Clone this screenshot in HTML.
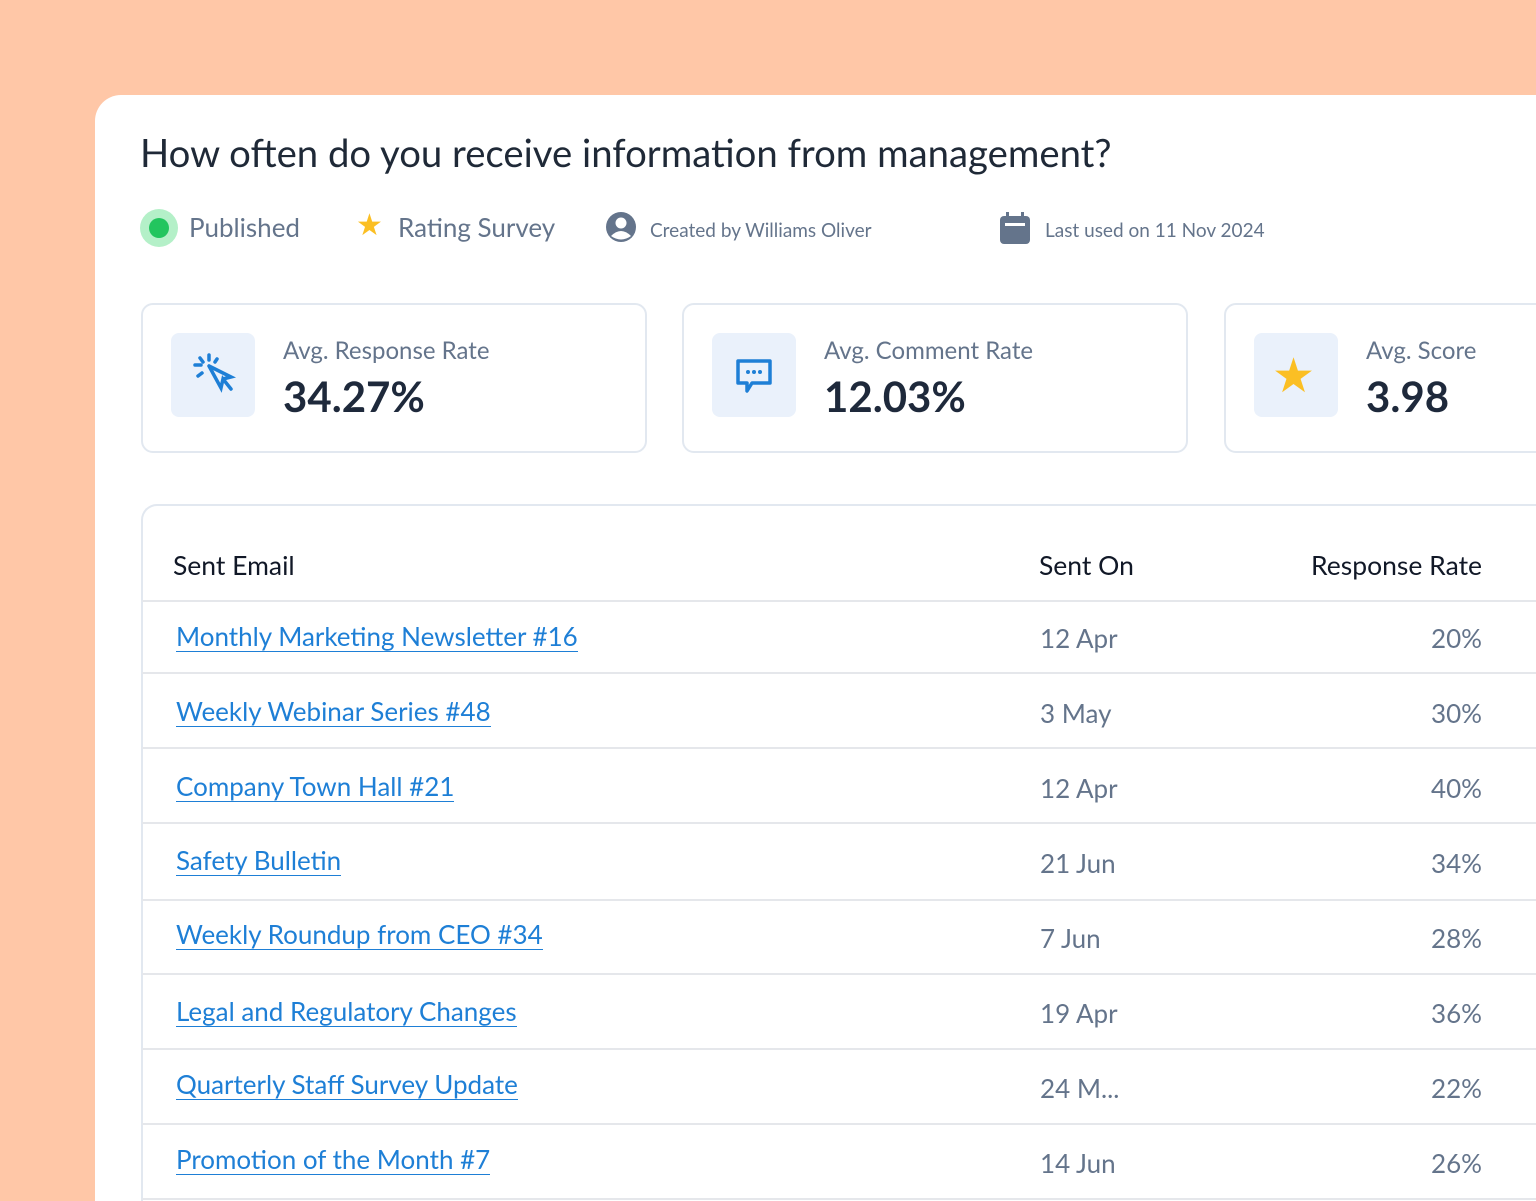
<!DOCTYPE html>
<html><head><meta charset="utf-8"><style>
*{margin:0;padding:0;box-sizing:border-box}
html,body{width:1536px;height:1201px;overflow:hidden}
body{background:#FFC7A7;font-family:"Lato","Liberation Sans",sans-serif;position:relative}
.panel{position:absolute;left:95px;top:95px;width:1441px;height:1106px;background:#fff;border-radius:26px 0 0 0}
.a{position:absolute;white-space:nowrap}
.title{left:140px;top:130px;font-size:38.3px;color:#1f2937}
.meta{color:#64748b}
.card{position:absolute;top:303px;height:150px;width:506px;border:2px solid #e2e8f0;border-radius:12px;background:#fff}
.ic{position:absolute;left:28px;top:28px;width:84px;height:84px;background:#eaf1fb;border-radius:8px}
.lab{position:absolute;left:140px;top:31px;font-size:24px;color:#64748b}
.val{position:absolute;left:140px;top:66px;font-size:42px;font-weight:bold;color:#1e293b}
.tbl{position:absolute;left:141px;top:504px;width:1395px;height:697px;border:2px solid #e2e8f0;border-radius:16px 0 0 0;border-right:none;border-bottom:none}
.hl{position:absolute;left:142px;width:1394px;height:2px;background:#e5e7eb}
.th{font-size:26.5px;color:#111827}
.lk{font-size:26px;color:#1e7fd6;border-bottom:1.5px solid #1e7fd6;line-height:29px}
.d{font-size:26px;color:#64748b}
.r{font-size:26px;color:#64748b;right:54px;text-align:right}
</style></head><body>
<div class="panel"></div>
<div class="a title">How often do you receive information from management?</div>
<div class="a" style="left:140px;top:209px;width:38px;height:38px;border-radius:50%;background:#b4f0c8"></div>
<div class="a" style="left:149px;top:218px;width:20px;height:20px;border-radius:50%;background:#22c55e"></div>
<div class="a meta" style="left:189px;top:211px;font-size:26px">Published</div>
<div class="a" style="left:356px;top:206px;font-size:30px;color:#fbbf24">★</div>
<div class="a meta" style="left:398px;top:211px;font-size:26px">Rating Survey</div>
<svg class="a" style="left:605px;top:211px" width="32" height="32" viewBox="0 0 32 32"><circle cx="16" cy="16" r="15" fill="#64748b"/><circle cx="16" cy="12" r="5.5" fill="#fff"/><path d="M6 25 Q16 15 26 25 Q16 32 6 25Z" fill="#fff"/></svg>
<div class="a meta" style="left:650px;top:219px;font-size:19px">Created by Williams Oliver</div>
<svg class="a" style="left:999px;top:211px" width="32" height="34" viewBox="0 0 32 34"><rect x="1" y="5" width="30" height="28" rx="4" fill="#64748b"/><rect x="7" y="1" width="3" height="8" fill="#64748b"/><rect x="22" y="1" width="3" height="8" fill="#64748b"/><rect x="6" y="12" width="20" height="3" fill="#fff"/></svg>
<div class="a meta" style="left:1045px;top:219px;font-size:19px">Last used on 11 Nov 2024</div>

<div class="card" style="left:141px"><div class="ic"><svg width="84" height="84" viewBox="0 0 84 84"><g stroke="#1e7fd6" stroke-width="3.5" stroke-linecap="round" fill="none"><path d="M38 33 L50 55 L52 46 L60 56 M52 46 L60 44 L38 33"/><path d="M38 22 V27"/><path d="M24 32 H30"/><path d="M27 43 L31 40"/><path d="M29 25 L32 29"/><path d="M46 26 L44 29"/></g></svg></div><div class="lab">Avg. Response Rate</div><div class="val">34.27%</div></div>
<div class="card" style="left:682px"><div class="ic"><svg width="84" height="84" viewBox="0 0 84 84"><path d="M26 28 H58 V50 H40 L35 58 V50 H26Z" fill="none" stroke="#1e7fd6" stroke-width="3.5" stroke-linejoin="round"/><g fill="#1e7fd6"><circle cx="36" cy="39" r="2"/><circle cx="42" cy="39" r="2"/><circle cx="48" cy="39" r="2"/></g></svg></div><div class="lab">Avg. Comment Rate</div><div class="val">12.03%</div></div>
<div class="card" style="left:1224px"><div class="ic"><div style="position:absolute;left:18px;top:14px;font-size:48px;color:#fbbf24;line-height:56px">★</div></div><div class="lab">Avg. Score</div><div class="val">3.98</div></div>

<div class="tbl"></div>
<div class="a th" style="left:173px;top:549px">Sent Email</div>
<div class="a th" style="left:1039px;top:549px">Sent On</div>
<div class="a th" style="right:54px;top:549px">Response Rate</div>
<div class="hl" style="top:600px"></div>
<div class="hl" style="top:672px"></div>
<div class="hl" style="top:747px"></div>
<div class="hl" style="top:822px"></div>
<div class="hl" style="top:899px"></div>
<div class="hl" style="top:973px"></div>
<div class="hl" style="top:1048px"></div>
<div class="hl" style="top:1123px"></div>
<div class="hl" style="top:1198px"></div>

<div class="a lk" style="left:176px;top:622px">Monthly Marketing Newsletter #16</div><div class="a d" style="left:1040px;top:622px">12 Apr</div><div class="a r" style="top:622px">20%</div>
<div class="a lk" style="left:176px;top:697px">Weekly Webinar Series #48</div><div class="a d" style="left:1040px;top:697px">3 May</div><div class="a r" style="top:697px">30%</div>
<div class="a lk" style="left:176px;top:772px">Company Town Hall #21</div><div class="a d" style="left:1040px;top:772px">12 Apr</div><div class="a r" style="top:772px">40%</div>
<div class="a lk" style="left:176px;top:846px">Safety Bulletin</div><div class="a d" style="left:1040px;top:847px">21 Jun</div><div class="a r" style="top:847px">34%</div>
<div class="a lk" style="left:176px;top:920px">Weekly Roundup from CEO #34</div><div class="a d" style="left:1040px;top:922px">7 Jun</div><div class="a r" style="top:922px">28%</div>
<div class="a lk" style="left:176px;top:997px">Legal and Regulatory Changes</div><div class="a d" style="left:1040px;top:997px">19 Apr</div><div class="a r" style="top:997px">36%</div>
<div class="a lk" style="left:176px;top:1070px">Quarterly Staff Survey Update</div><div class="a d" style="left:1040px;top:1072px">24 M...</div><div class="a r" style="top:1072px">22%</div>
<div class="a lk" style="left:176px;top:1145px">Promotion of the Month #7</div><div class="a d" style="left:1040px;top:1147px">14 Jun</div><div class="a r" style="top:1147px">26%</div>
</body></html>
